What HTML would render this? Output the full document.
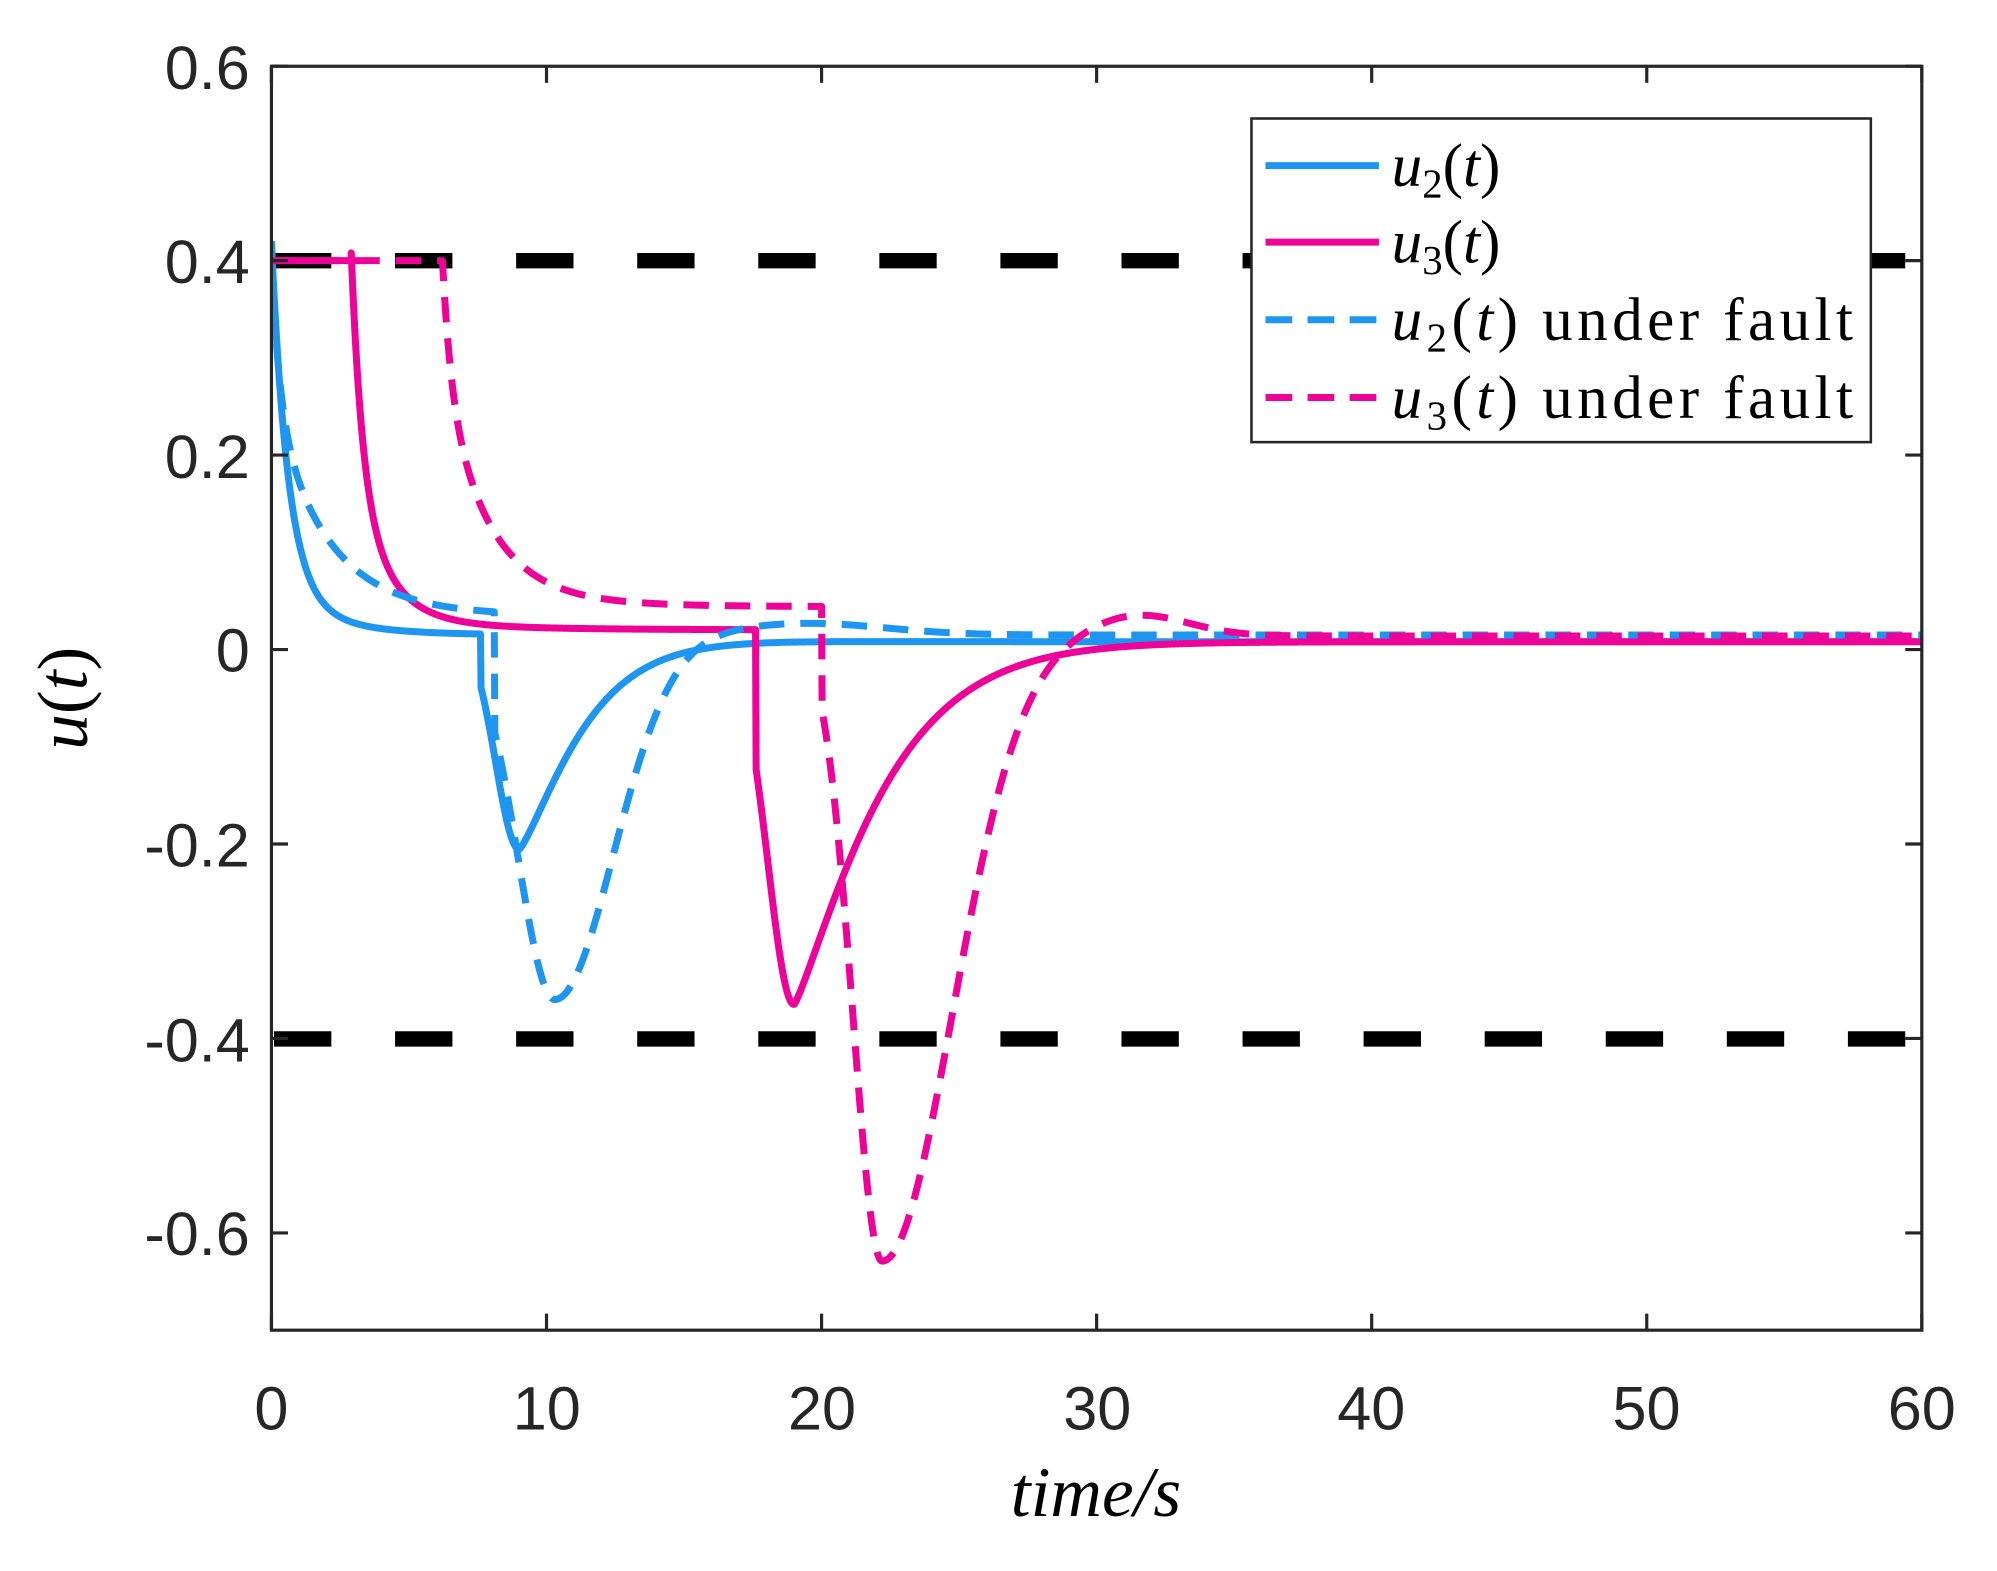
<!DOCTYPE html>
<html><head><meta charset="utf-8"><style>
html,body{margin:0;padding:0;background:#fff;}
svg{display:block;}
.tk{font-family:"Liberation Sans",sans-serif;font-size:48px;fill:#262626;}
.lt{font-family:"Liberation Serif",serif;font-size:48px;fill:#000;}
</style></head><body>
<svg id="s" width="1997" height="1571" viewBox="0 0 1567 1233" preserveAspectRatio="none" xmlns="http://www.w3.org/2000/svg">
<defs><clipPath id="c"><rect x="213" y="52" width="1295" height="992"/></clipPath></defs>
<rect x="0" y="0" width="1567" height="1233" fill="#fff"/>
<g clip-path="url(#c)">
<line x1="215" y1="204.6" x2="1500" y2="204.6" stroke="#000" stroke-width="12" stroke-dasharray="45 50"/>
<line x1="215" y1="815.4" x2="1500" y2="815.4" stroke="#000" stroke-width="12" stroke-dasharray="45 50"/>
<g id="curves" fill="none" stroke-width="5.5" stroke-linejoin="round"></g>
</g>
<rect x="213" y="52" width="1295" height="992" fill="none" stroke="#262626" stroke-width="2.5"/>
<g id="ticks" stroke="#262626" stroke-width="2.5"></g>
<g class="tk" text-anchor="end">
<text x="196" y="70">0.6</text><text x="196" y="222">0.4</text><text x="196" y="375">0.2</text>
<text x="196" y="527">0</text><text x="196" y="680">-0.2</text><text x="196" y="833">-0.4</text><text x="196" y="985">-0.6</text>
</g>
<g class="tk" text-anchor="middle">
<text x="213" y="1122">0</text><text x="429" y="1122">10</text><text x="645" y="1122">20</text><text x="861" y="1122">30</text>
<text x="1076" y="1122">40</text><text x="1292" y="1122">50</text><text x="1508" y="1122">60</text>
</g>
<text x="860" y="1190" text-anchor="middle" font-family="Liberation Serif,serif" font-style="italic" font-size="56">time/s</text>
<text transform="translate(68,548) rotate(-90)" text-anchor="middle" font-family="Liberation Serif,serif" font-size="56"><tspan font-style="italic">u</tspan>(<tspan font-style="italic">t</tspan>)</text>
<rect x="982" y="93" width="486" height="254" fill="#fff" stroke="#262626" stroke-width="2"/>
<g stroke-width="5.5">
<line x1="993" y1="130" x2="1082" y2="130" stroke="#1E96F0"/>
<line x1="993" y1="190" x2="1082" y2="190" stroke="#EE0399"/>
<line x1="993" y1="251" x2="1082" y2="251" stroke="#1E96F0" stroke-dasharray="21 12"/>
<line x1="993" y1="312" x2="1082" y2="312" stroke="#EE0399" stroke-dasharray="21 12"/>
</g>
<g class="lt">
<text x="1092" y="146"><tspan font-style="italic">u</tspan><tspan font-size="32" dy="9">2</tspan><tspan dy="-9">(</tspan><tspan font-style="italic">t</tspan>)</text>
<text x="1092" y="206"><tspan font-style="italic">u</tspan><tspan font-size="32" dy="9">3</tspan><tspan dy="-9">(</tspan><tspan font-style="italic">t</tspan>)</text>
<text x="1092" y="267" textLength="362" lengthAdjust="spacing"><tspan font-style="italic">u</tspan><tspan font-size="32" dy="9">2</tspan><tspan dy="-9">(</tspan><tspan font-style="italic">t</tspan>) under fault</text>
<text x="1092" y="328" textLength="362" lengthAdjust="spacing"><tspan font-style="italic">u</tspan><tspan font-size="32" dy="9">3</tspan><tspan dy="-9">(</tspan><tspan font-style="italic">t</tspan>) under fault</text>
</g>
<script>
(function(){
var NS="http://www.w3.org/2000/svg";
function X(t){return 213+t*1295/60;}
function Y(u){return 509.8-u*763.1;}
function dip(t,tm,A,wl,wr,p){var d=t-tm;if(d<0)return A*Math.exp(-(d/wl)*(d/wl));return A*Math.exp(-Math.pow(d/wr,p));}
function u2(t){
 if(t<7.6) return 0.015+0.36*Math.exp(-t/0.6)+0.045*Math.exp(-t/2);
 var b=0.008+0.012*Math.exp(-(t-7.6)/4);
 return b+dip(t,9,-0.222,1.2,2.64,1.26);}
function u2f(t){
 if(t<8.1) return 0.035+0.365*(0.4*Math.exp(-t/0.3)+0.6*Math.exp(-t/2));
 var b=0.015+0.012*Math.exp(-Math.pow((t-19.5)/4,2));
 return b+dip(t,10.3,-0.375,1.9,3.0,2);}
function u3(t){
 if(t<2.9) return 0.4;
 if(t<17.6){var d=t-2.9;return 0.02+0.38*(0.6*Math.exp(-d/0.4)+0.4*Math.exp(-d/1.2))+0.008*Math.exp(-d/5);}
 return 0.008+dip(t,19,-0.373,1.35,3.55,1.2);}
function u3f(t){
 if(t<6.2) return 0.4;
 if(t<20){var d=t-6.2;return 0.044+0.356*(0.35*Math.exp(-d/0.3)+0.65*Math.exp(-d/1.6))+0.01*Math.exp(-d/4);}
 return 0.014+0.022*Math.exp(-Math.pow((t-31.5)/2.6,2))+dip(t,22.2,-0.643,1.5,3.6,2);}
var g=document.getElementById("curves");
function add(f,col,dash,breaks){
 var ts=[];for(var t=0;t<=60.0001;t+=0.02)ts.push(t);
 breaks.forEach(function(b){ts.push(b-1e-6);});
 ts.sort(function(a,b){return a-b;});
 var d="";ts.forEach(function(t,i){d+=(i?"L":"M")+X(t).toFixed(2)+" "+Y(f(t)).toFixed(2);});
 var p=document.createElementNS(NS,"path");p.setAttribute("d",d);p.setAttribute("stroke",col);
 if(dash)p.setAttribute("stroke-dasharray",dash);g.appendChild(p);}
add(u2,"#1E96F0",null,[7.6]);
add(u3,"#EE0399",null,[2.9,17.6]);
add(u2f,"#1E96F0","20 12.5",[8.1]);
add(u3f,"#EE0399","20 12.5",[6.2,20]);
var tk=document.getElementById("ticks");
function ln(a,b,c,d){var l=document.createElementNS(NS,"line");l.setAttribute("x1",a);l.setAttribute("y1",b);l.setAttribute("x2",c);l.setAttribute("y2",d);tk.appendChild(l);}
for(var i=0;i<=6;i++){var x=X(i*10);ln(x,1044,x,1031);ln(x,52,x,65);}
for(var j=-3;j<=3;j++){var y=Y(j*0.2);ln(213,y,226,y);ln(1508,y,1495,y);}
})();
</script>
</svg>
</body></html>
